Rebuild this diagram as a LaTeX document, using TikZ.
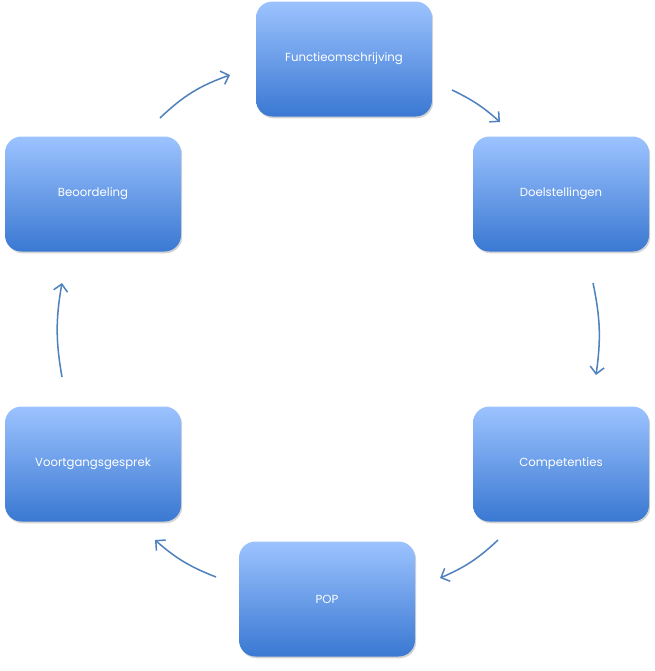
\documentclass[tikz,border=0pt]{standalone}
\usepackage{fontspec}
\setmainfont{Poppins}
\usetikzlibrary{arrows.meta,shadows}
\definecolor{topc}{HTML}{9CC3FF}
\definecolor{botc}{HTML}{3A78D2}
\definecolor{arr}{HTML}{4F81BD}
\tikzset{
 box/.style={rounded corners=14pt,minimum width=176*0.03cm,minimum height=115*0.03cm,
   top color=topc,bottom color=botc,draw=none,text=white,font=\fontsize{10}{12}\selectfont,
   drop shadow={shadow xshift=1pt,shadow yshift=-1.5pt,opacity=0.35}},
 conn/.style={draw=arr,line width=1.3pt,-{Straight Barb[length=6pt,width=12pt]}}
}
\begin{document}
\begin{tikzpicture}[x=0.03cm,y=-0.03cm]
\useasboundingbox (0,0) rectangle (655,671);
\node[box] (f) at (344,59) {Functieomschrijving};
\node[box] (d) at (561,194) {Doelstellingen};
\node[box] (c) at (561,464) {Competenties};
\node[box] (p) at (327,599) {POP};
\node[box] (v) at (93,464) {Voortgangsgesprek};
\node[box] (b) at (93,194) {Beoordeling};
\coordinate (a1) at (160,118); \coordinate (a2) at (230,75);
\coordinate (b1) at (452,90); \coordinate (b2) at (500,122);
\coordinate (c1) at (593,283); \coordinate (c2) at (596,375);
\coordinate (d1) at (498,540); \coordinate (d2) at (440,578);
\coordinate (e1) at (216,577); \coordinate (e2) at (155,540);
\coordinate (g1) at (62,377); \coordinate (g2) at (62,283);
\draw[conn] (a1) to[bend left=12] (a2);
\draw[conn] (b1) to[bend left=8] (b2);
\draw[conn] (c1) to[bend left=10] (c2);
\draw[conn] (d1) to[bend left=10] (d2);
\draw[conn] (e1) to[bend left=10] (e2);
\draw[conn] (g1) to[bend left=10] (g2);
\end{tikzpicture}
\end{document}
